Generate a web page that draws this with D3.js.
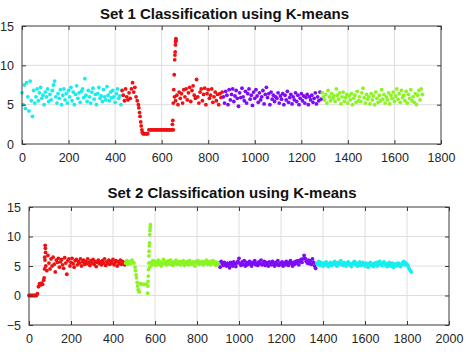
<!DOCTYPE html>
<html><head><meta charset="utf-8">
<script src="https://cdn.jsdelivr.net/npm/d3@7"></script>
<style>
html,body{margin:0;padding:0;background:#fff;}
svg{display:block;font-family:"Liberation Sans",Arial,sans-serif;}
</style></head>
<body><svg id="c" width="474" height="354"></svg>
<script>
// ---------- DATA ----------
const titles = ["Set 1 Classification using K-means", "Set 2 Classification using K-means"];
const xTicks1 = [0,200,400,600,800,1000,1200,1400,1600,1800];
const yTicks1 = [0,5,10,15];
const xTicks2 = [0,200,400,600,800,1000,1200,1400,1600,1800,2000];
const yTicks2 = [-5,0,5,10,15];
const sampleStep = 5;

// Set 1 values sampled every 5 x-units starting at 0
const set1Values = [
6.5,5.0,7.5,4.5,7.8,6.0,4.2,8.0,5.5,3.5,
6.8,5.2,6.0,7.0,5.5,6.5,7.2,5.8,6.2,5.0,
6.6,6.0,7.0,5.4,6.3,5.6,6.8,7.5,8.0,6.0,
5.2,6.4,5.8,6.9,5.0,6.2,7.0,5.6,6.4,5.2,
6.8,6.0,7.2,5.5,6.6,5.0,6.3,7.4,5.8,6.5,
5.3,6.7,7.0,5.9,8.3,6.2,5.4,6.8,6.0,5.2,
6.6,7.1,5.7,6.3,5.0,6.4,7.2,5.8,6.1,5.4,
6.9,6.0,5.6,7.3,6.2,5.5,6.6,5.9,6.8,6.0,
5.3,6.4,7.0,5.8,6.1,5.0,6.8,6.2,5.5,7.0,
6.0,5.6,6.5,5.8,7.0,7.8,6.6,7.2,6.0,5.5,
5.0,4.0,2.8,1.8,1.3,1.3,1.3,1.3,1.3,1.8,
1.8,1.8,1.8,1.8,1.8,1.8,1.8,1.8,1.8,1.8,
1.8,1.8,1.8,1.8,1.8,1.8,1.8,1.8,1.8,1.8,
1.8,6.0,5.5,6.2,5.0,6.6,5.8,6.4,5.2,6.9,
6.0,7.0,5.6,6.5,7.2,5.4,6.8,7.4,6.2,5.8,
8.2,6.0,5.2,6.6,7.0,5.5,6.3,7.1,5.0,6.4,
6.9,5.8,6.2,7.0,5.3,6.0,6.6,5.5,6.3,5.0,
6.4,5.9,6.6,6.0,5.2,6.7,6.2,5.0,6.9,5.6,
6.3,7.0,5.4,6.1,6.8,5.8,4.8,6.5,5.9,7.1,
6.0,5.5,6.7,5.2,6.4,7.0,5.7,6.2,4.9,6.6,
5.8,6.9,6.1,5.3,6.5,5.6,6.0,6.8,5.1,6.3,
7.2,5.9,6.4,5.0,6.6,5.7,6.2,5.4,6.0,5.8,
6.5,5.2,6.1,5.7,6.4,5.0,6.2,5.6,6.7,5.3,
5.9,6.3,5.1,6.0,5.6,6.5,5.4,6.2,5.0,5.8,
6.4,5.5,6.1,5.2,5.9,6.3,5.0,6.0,5.6,6.2,
5.3,5.8,6.5,5.1,6.0,5.5,6.6,5.7,6.5,6.0,
5.6,6.3,5.2,6.8,6.0,5.5,6.4,5.8,6.1,5.4,
7.0,6.2,5.7,6.5,5.1,6.0,6.6,5.4,5.9,6.3,
5.2,6.1,5.6,6.4,5.0,5.8,6.2,5.3,6.7,5.5,
6.0,5.4,6.5,7.1,5.9,5.2,6.3,5.7,6.0,5.1,
6.4,5.6,6.1,5.0,6.6,5.8,5.3,6.2,5.5,6.9,
5.7,6.3,5.2,6.0,5.6,6.5,5.1,6.2,5.8,6.6,
5.4,6.1,7.0,5.7,6.4,5.3,6.8,5.9,6.2,5.5,
6.7,5.2,6.3,5.8,6.9,5.5,6.0,5.3,6.4,5.0,
6.2,6.8,5.6,7.0,6.3
];
// transient points of set 1 (explicit x positions)
const set1ExtraX = [502,507,512,517,646,648,650,652,654,656,657,658,659,660,661,662];
const set1ExtraY = [4.6,3.5,2.3,1.5,2.5,3.0,5.2,6.9,8.8,10.7,11.3,11.7,12.6,13.0,13.4,13.2];
const set1Breaks = [430, 865, 1290];
const set1Colors = ["#16eeee", "#ee1111", "#7d0cf5", "#8af520"];

// Set 2 values sampled every 5 x-units starting at 0
const set2Values = [
0,0,0,0,0,0,0,0,0.3,1.5,
2.0,1.8,2.1,1.9,2.6,6.5,5.0,4.2,6.8,5.5,
4.5,6.2,5.0,6.5,5.3,4.0,6.0,5.6,6.3,4.8,
5.7,6.1,5.2,4.6,6.4,5.5,3.6,5.9,6.2,5.0,
5.6,6.3,5.4,4.8,5.9,6.1,5.2,5.8,5.5,6.2,
5.0,5.7,6.0,5.3,5.8,5.4,6.2,5.6,5.1,5.9,
5.5,6.1,5.3,5.8,4.9,5.6,6.0,5.4,5.7,5.2,
5.9,5.5,6.2,5.1,5.7,5.4,6.0,5.3,5.8,5.5,
6.1,5.2,5.6,5.9,5.0,5.7,5.4,6.0,5.3,5.8,
5.6,5.2,5.5,5.9,5.3,5.8,5.6,5.4,6.0,5.7,
5.5,4.8,3.5,2.2,1.0,0.6,2.0,1.9,1.9,1.9,
1.9,1.9,1.9,0.4,5.5,4.8,5.6,5.2,5.9,5.4,
5.8,5.1,5.6,6.0,5.3,5.7,5.0,5.5,6.1,5.4,
5.8,5.2,5.6,5.9,5.3,6.0,5.5,5.1,5.7,5.4,
6.0,5.3,5.6,5.8,5.2,5.7,5.5,5.9,5.1,5.6,
5.4,5.8,5.2,5.9,5.5,5.3,5.7,5.6,5.0,5.8,
5.5,5.9,5.3,5.6,5.4,5.8,5.2,5.7,5.5,6.0,
5.3,5.6,5.8,5.2,5.5,5.9,5.4,5.7,5.1,5.6,
5.3,5.5,4.8,5.8,5.4,5.1,5.6,5.3,5.0,5.5,
5.2,4.7,5.6,5.3,5.0,5.7,5.4,4.9,5.5,5.8,
6.3,5.4,5.1,5.7,5.3,5.9,5.0,5.6,5.2,5.5,
5.8,5.3,5.0,5.6,5.4,5.9,5.2,5.5,5.1,5.7,
5.4,6.0,5.2,5.5,5.8,5.1,5.6,5.3,5.0,5.7,
5.5,5.2,5.8,5.4,5.0,5.6,5.3,5.9,5.1,5.5,
5.3,5.7,5.0,5.5,5.2,5.8,5.4,5.1,5.6,5.9,
5.4,5.0,5.6,5.3,5.8,5.5,5.9,5.2,5.7,6.1,
5.6,6.2,6.8,6.3,5.8,5.5,6.0,5.4,5.9,5.3,
6.2,5.6,5.0,4.6,5.5,5.3,5.8,5.1,5.6,5.4,
5.0,5.5,5.2,5.7,5.3,4.9,5.4,5.6,5.1,5.5,
5.3,5.8,5.4,5.0,5.6,5.2,5.5,5.9,5.3,5.1,
5.6,5.4,5.0,5.5,5.7,5.2,5.4,4.9,5.3,5.6,
5.8,5.2,5.5,5.0,5.4,5.7,5.1,5.3,5.6,5.2,
5.0,5.5,5.3,4.8,5.4,5.6,5.1,5.3,4.9,5.5,
5.2,5.6,5.0,5.4,5.8,5.3,5.1,5.5,5.7,5.2,
5.4,4.9,5.3,5.6,5.0,5.2,5.5,4.8,5.3,5.0,
5.4,5.1,5.5,5.2,4.9,5.3,5.6,5.8,5.2,5.5,
5.3,5.0,4.6,4.3,4.0
];
const set2ExtraX = [72,74,76,77,78,79,507,512,517,522,566,567,568,569,571,572,573,574,575,576,577,578];
const set2ExtraY = [3.0,4.5,6.0,8.5,8.0,7.3,4.2,3.0,1.6,0.8,1.6,2.4,3.3,4.4,6.7,7.5,8.4,8.9,10.3,11.0,11.5,12.0];
const set2Breaks = [460, 910, 1370];
const set2Colors = ["#ee1111", "#8af520", "#7d0cf5", "#16eeee"];

// ---------- DRAW ----------
const svg = d3.select("#c");
const axisColor = "#3a3a3a";
const textColor = "#262626";

function panel(cfg) {
  const x = d3.scaleLinear().domain(cfg.xDomain).range([cfg.left, cfg.right]);
  const y = d3.scaleLinear().domain(cfg.yDomain).range([cfg.bottom, cfg.top]);
  const g = svg.append("g");
  // grid
  g.selectAll("line.gx").data(cfg.xTicks.slice(1, -1)).join("line")
    .attr("x1", d => x(d)).attr("x2", d => x(d))
    .attr("y1", cfg.top).attr("y2", cfg.bottom)
    .attr("stroke", "#dedede").attr("stroke-width", 1);
  g.selectAll("line.gy").data(cfg.yTicks.slice(1, -1)).join("line")
    .attr("y1", d => y(d)).attr("y2", d => y(d))
    .attr("x1", cfg.left).attr("x2", cfg.right)
    .attr("stroke", "#dedede").attr("stroke-width", 1);
  // points
  const pts = cfg.values.map((v, i) => ({x: i * sampleStep, y: v}))
    .concat(cfg.extraX.map((xx, i) => ({x: xx, y: cfg.extraY[i]})));
  const cls = d => cfg.breaks.filter(b => d.x >= b).length;
  g.selectAll("circle").data(pts).join("circle")
    .attr("cx", d => x(d.x)).attr("cy", d => y(d.y)).attr("r", 1.9)
    .attr("fill", d => cfg.colors[cls(d)]);
  // axes (inward ticks, box)
  const tl = 4;
  const fmt = d3.format("d");
  const ax = g.append("g");
  ax.append("rect").attr("x", cfg.left).attr("y", cfg.top)
    .attr("width", cfg.right - cfg.left).attr("height", cfg.bottom - cfg.top)
    .attr("fill", "none").attr("stroke", axisColor).attr("stroke-width", 1);
  const bx = d3.axisBottom(x).tickValues(cfg.xTicks).tickFormat(fmt).tickSizeInner(-tl).tickSizeOuter(0).tickPadding(9);
  const gb = ax.append("g").attr("transform", `translate(0,${cfg.bottom})`).call(bx);
  const tx = d3.axisTop(x).tickValues(cfg.xTicks).tickSizeInner(-tl).tickSizeOuter(0).tickFormat("");
  const gt = ax.append("g").attr("transform", `translate(0,${cfg.top})`).call(tx);
  const ly = d3.axisLeft(y).tickValues(cfg.yTicks).tickFormat(fmt).tickSizeInner(-tl).tickSizeOuter(0).tickPadding(8);
  const gl = ax.append("g").attr("transform", `translate(${cfg.left},0)`).call(ly);
  const ry = d3.axisRight(y).tickValues(cfg.yTicks).tickSizeInner(-tl).tickSizeOuter(0).tickFormat("");
  const gr = ax.append("g").attr("transform", `translate(${cfg.right},0)`).call(ry);
  [gb, gt, gl, gr].forEach(s => {
    s.select(".domain").remove();
    s.selectAll("line").attr("stroke", axisColor);
    s.selectAll("text").attr("fill", textColor).attr("font-size", 12.5)
      .attr("font-family", "'Liberation Sans', Arial, sans-serif");
  });
  // title
  svg.append("text").attr("x", (cfg.left + cfg.right) / 2 - 7).attr("y", cfg.titleY)
    .attr("text-anchor", "middle").attr("font-weight", "bold").attr("font-size", 15)
    .attr("fill", "#111").text(cfg.title);
}

panel({left: 22, right: 441, top: 26, bottom: 144, xDomain: [0, 1800], yDomain: [0, 15],
  xTicks: xTicks1, yTicks: yTicks1, values: set1Values, extraX: set1ExtraX, extraY: set1ExtraY,
  breaks: set1Breaks, colors: set1Colors, title: titles[0], titleY: 19});
panel({left: 29, right: 449, top: 207, bottom: 325, xDomain: [0, 2000], yDomain: [-5, 15],
  xTicks: xTicks2, yTicks: yTicks2, values: set2Values, extraX: set2ExtraX, extraY: set2ExtraY,
  breaks: set2Breaks, colors: set2Colors, title: titles[1], titleY: 198});
</script></body></html>
